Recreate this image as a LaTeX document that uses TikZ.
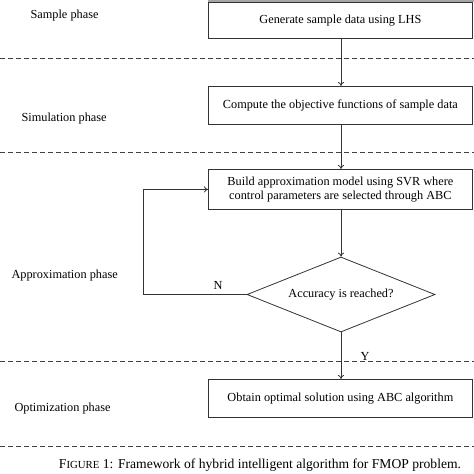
\documentclass[tikz,border=0pt]{standalone}
\usepackage{fontspec}
\setmainfont{Liberation Serif}
\usetikzlibrary{shapes.geometric,arrows.meta}
\newcommand{\fakesc}[1]{{\fontsize{10.8}{16}\selectfont #1}}
\begin{document}
\begin{tikzpicture}[x=1pt,y=-1pt,
  every node/.style={font=\fontsize{12.3}{14.5}\selectfont},
  procbox/.style={draw=black!80,line width=0.8pt,minimum width=264pt,minimum height=38pt,inner sep=0pt,align=center},
  decision/.style={draw=black!80,line width=0.8pt,diamond,minimum width=188pt,minimum height=75pt,inner sep=0pt,aspect=2.5},
  sep/.style={draw=black!75,dashed,dash pattern=on 5pt off 3pt,line width=0.6pt},
  flow/.style={draw=black!80,line width=0.8pt,-{To[length=4pt,width=6pt]}},
  phase/.style={anchor=west,font=\fontsize{12.3}{14.5}\selectfont}]
\useasboundingbox (0,0) rectangle (474,474);
\fill[black!35] (208,0) rectangle (474,2);
\node[procbox,anchor=north west,minimum height=36pt] (b1) at (208,2) {Generate sample data using LHS};
\node[procbox,anchor=north west] (b2) at (208,86) {Compute the objective functions of sample data};
\node[procbox,anchor=north west,minimum height=40pt] (b3) at (208,169) {Build approximation model using SVR where\\control parameters are selected through ABC};
\node[decision] (d) at (341,294.5) {Accuracy is reached?};
\node[procbox,anchor=north west] (b4) at (208,379) {Obtain optimal solution using ABC algorithm};
\node[phase] (p1) at (27,16) {Sample phase};
\node[phase] (p2) at (18,119) {Simulation phase};
\node[phase] (p3) at (8,276) {Approximation phase};
\node[phase] (p4) at (11,409) {Optimization phase};
\coordinate (l1a) at (0,58); \coordinate (l1b) at (474,58);
\coordinate (l2a) at (0,152); \coordinate (l2b) at (474,152);
\coordinate (l3a) at (0,361); \coordinate (l3b) at (474,361);
\coordinate (l4a) at (0,446); \coordinate (l4b) at (474,446);
\draw[sep] (l1a) -- (l1b);
\draw[sep] (l2a) -- (l2b);
\draw[sep] (l3a) -- (l3b);
\draw[sep] (l4a) -- (l4b);
\draw[flow] (341,38) -- (341,86);
\draw[flow] (341,124) -- (341,169);
\draw[flow] (341,209) -- (d.north);
\draw[flow] (d.south) -- (341,379);
\coordinate (lc) at (143,294.5);
\draw[flow] (d.west) -- (lc) |- (b3.west);
\node (N) at (218,285) {N};
\node (Y) at (365,356) {Y};
\node[font=\fontsize{13.6}{16}\selectfont] (cap) at (260,465) {F\fakesc{IGURE} 1: Framework of hybrid intelligent algorithm for FMOP problem.};
\end{tikzpicture}
\end{document}
